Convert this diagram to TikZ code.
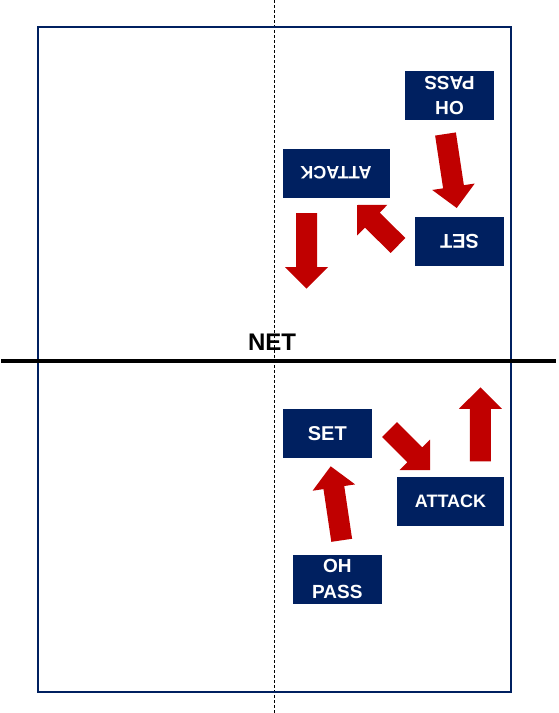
\documentclass[tikz,border=0pt]{standalone}
\usepackage{fontspec}
\setmainfont{Liberation Sans}
\usetikzlibrary{calc}
\definecolor{navy}{RGB}{0,32,96}
\definecolor{arrowred}{RGB}{192,0,0}
\tikzset{
  boxnode/.style={fill=navy, text=white, inner sep=0pt, minimum height=49pt, align=center, font=\bfseries\fontsize{18}{25.5}\selectfont},
  setbox/.style={boxnode, minimum width=89pt, font=\bfseries\fontsize{20}{24}\selectfont},
  attbox/.style={boxnode, minimum width=107pt},
  ohbox/.style={boxnode, minimum width=89pt, font=\bfseries\fontsize{19}{25.7}\selectfont},
}
\newcommand\blockarrow[2]{%
  \path ($(#2)!21.5pt!(#1)$) coordinate (bb);
  \fill[arrowred] ($(#1)!10.5pt!90:(#2)$) -- ($(bb)!10.5pt!90:(#2)$) -- ($(bb)!21.5pt!90:(#2)$) -- (#2)
    -- ($(bb)!21.5pt!-90:(#2)$) -- ($(bb)!10.5pt!-90:(#2)$) -- ($(#1)!10.5pt!-90:(#2)$) -- cycle;}
\begin{document}
\begin{tikzpicture}[x=1pt,y=-1pt]
\useasboundingbox (0,0) rectangle (559,713);
% centre line
\coordinate (ctop) at (274.5,0);
\coordinate (cbot) at (274.5,713);
\draw[line width=0.8pt, dash pattern=on 3pt off 2pt] (ctop) -- (cbot);
% court
\draw[navy, line width=2pt] (38,27) rectangle (511,692);
% net
\coordinate (netl) at (1,360.5);
\coordinate (netr) at (556,360.5);
\draw[line width=4pt] (netl) -- (netr);
\node[font=\bfseries\fontsize{24}{28}\selectfont] (net) at (272,342) {NET};
% top half (rotated)
\node[ohbox, rotate=180] (ohT) at (449.5,95.5) {OH\\PASS};
\node[attbox, rotate=180] (attT) at (336,173) {ATTACK};
\node[setbox, rotate=180] (setT) at (459.5,241.3) {SET};
% bottom half
\node[setbox] (setB) at (327.3,433.3) {SET};
\node[attbox] (attB) at (450.5,501.3) {ATTACK};
\node[ohbox] (ohB) at (337.3,579.3) {OH\\PASS};
% arrow end points
\coordinate (a1t) at (445.5,134);   \coordinate (a1p) at (456.7,208);
\coordinate (a2t) at (398,245.5);   \coordinate (a2p) at (357,205);
\coordinate (a3t) at (306.5,213);   \coordinate (a3p) at (306.5,288.5);
\coordinate (a4t) at (341.7,540.3); \coordinate (a4p) at (330.7,466.3);
\coordinate (a5t) at (389.5,429.5); \coordinate (a5p) at (430,470);
\coordinate (a6t) at (480.3,461.3); \coordinate (a6p) at (480.5,387.3);
\blockarrow{a1t}{a1p}
\blockarrow{a2t}{a2p}
\blockarrow{a3t}{a3p}
\blockarrow{a4t}{a4p}
\blockarrow{a5t}{a5p}
\blockarrow{a6t}{a6p}
\end{tikzpicture}
\end{document}
